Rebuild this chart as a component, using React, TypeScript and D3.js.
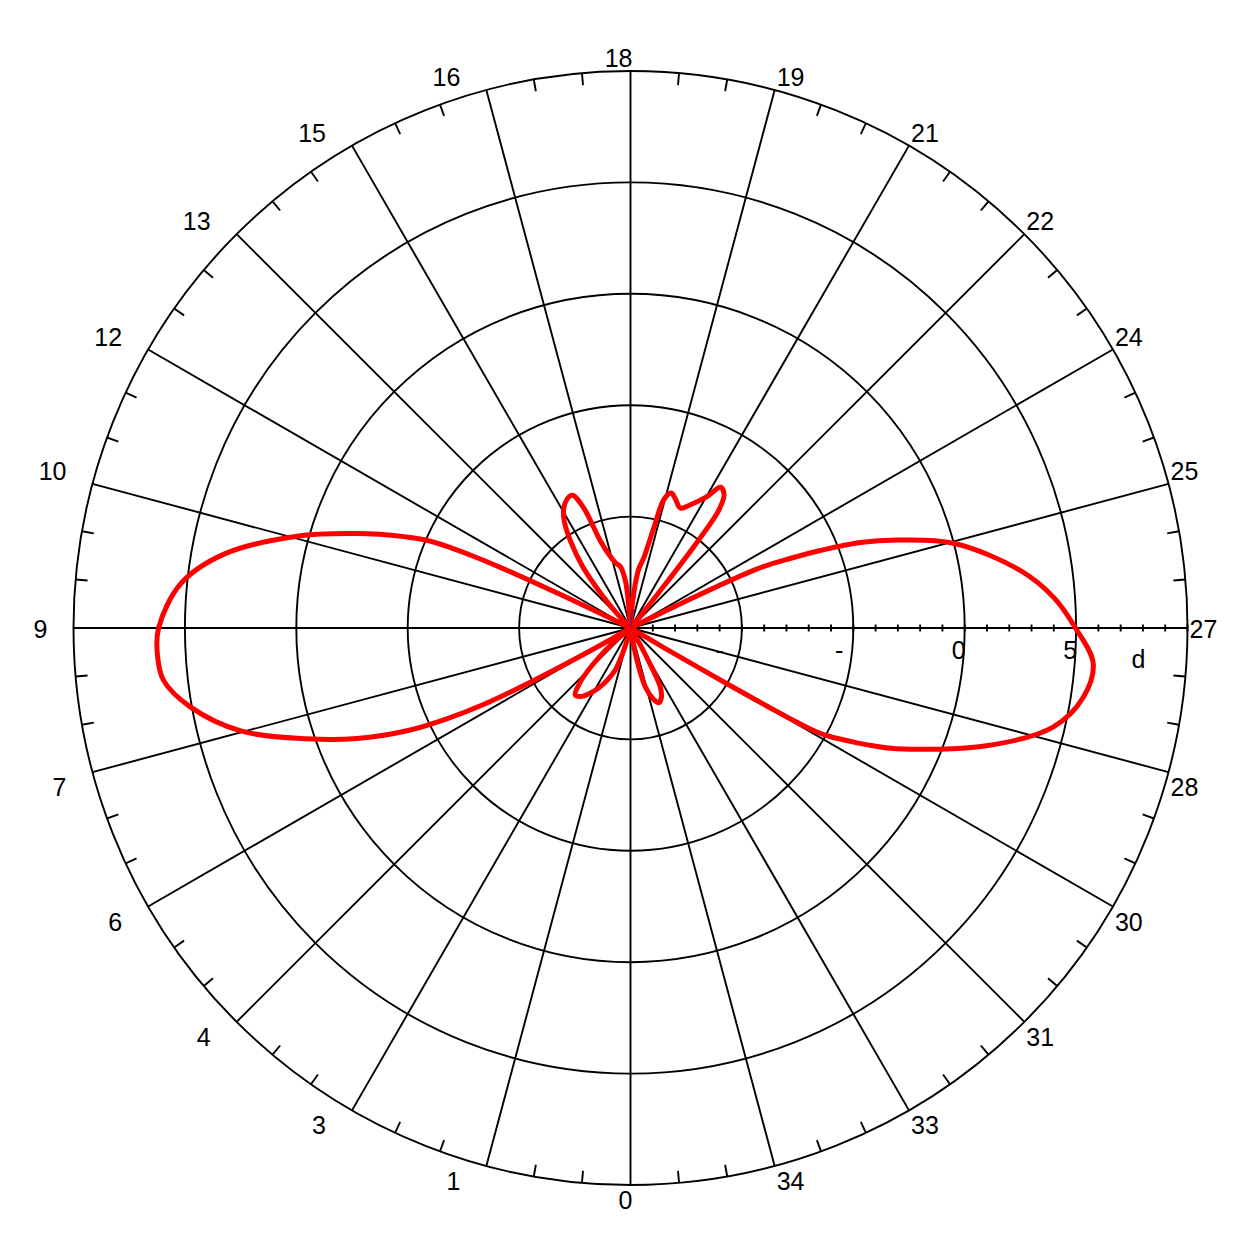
import React from "react";
import * as d3 from "d3";

// Pattern samples: angle (deg, 0 at bottom, clockwise) and gain (dB)
const angleDeg = [
  0, 12, 15, 17, 20, 24, 28, 32, 35.5, 39.5, 42.5, 45, 47.5, 50, 52,
  58, 60, 61.5, 62.5, 63.7, 65.3, 68, 71.1, 75.2, 79.8, 83.6, 86.9, 90, 95.6, 100.3, 105.6, 108.9, 110.5, 112, 113.2, 114, 114.6, 115, 115.5, 116, 117,
  135, 137, 139, 142.1, 145.3, 148.8, 152.8, 156.3, 158.7, 160.9, 164, 167, 170.8, 173.9, 175.5, 177, 180,
  183, 186, 188, 190.8, 193.1, 194.6, 196.8, 199, 202.6, 205.9, 210.2, 212.6, 215, 216.8, 217.8, 218.5, 219.5, 221,
  242, 244, 245, 246.5, 247.8, 249.6, 251.7, 255.3, 261.6, 266, 270, 274.4, 278.7, 283.2, 288.3, 294.4, 296, 297.4, 298.5, 299.2, 299.6, 300, 300.5, 301.5,
  328, 330, 331.5, 333.2, 336, 339.2, 342, 345.8, 348.1, 350, 352,
];
const gainDb = [
  -15, -15, -14.64, -13.88, -12.98, -12.44, -11.95, -11.54, -11.23, -11.1, -11.59, -12.31, -13.2, -14.46, -15,
  -15, -13.65, -10.06, -7.59, -5.8, -3.96, -1.76, 0.35, 3.09, 5.06, 6.09, 6.27, 6.18, 5.29, 3.54, 0.39, -1.89, -2.97, -4.05, -4.95, -6.02, -7.37, -8.72, -11.41, -14.1, -15,
  -15, -14.1, -13.11, -11.5, -10.29, -9.21, -8.63, -8.49, -9.21, -10.87, -11.63, -11.99, -12.22, -12.89, -14.1, -14.78, -15,
  -14.46, -13.11, -12.31, -11.77, -10.38, -9.03, -8.67, -8.85, -9.17, -8.85, -8.18, -7.5, -7.68, -8.36, -10.06, -12.31, -14.33, -15,
  -15, -12.76, -8.72, -7.15, -5.8, -4.0, -2.43, -0.01, 2.68, 4.08, 4.97, 5.83, 5.56, 4.48, 1.83, -1.89, -2.97, -4.0, -4.77, -5.48, -6.92, -9.61, -13.2, -15,
  -15, -14.1, -13.2, -12.04, -11.59, -11.41, -11.63, -12.26, -13.2, -14.33, -15,
];

// tiny second trace near the centre
const blueAngleDeg = [180, 186];
const blueGainDb = [-15, -14.15];

const radialDomain = [-15, 10];
const ringValues = [-10, -5, 0, 5, 10];
const radialTickValues = d3.range(-14, 11, 1);
const radialLabelValues = [-10, -5, 0, 5];
const radialLabelTexts = ["-", "-", "0", "5"];
const radialUnitText = "d";
const radialUnitValue = 7.8;

const spokeAngles = d3.range(0, 360, 15);
const spokeLabels = [
  "0", "1", "3", "4", "6", "7", "9", "10", "12", "13", "15", "16",
  "18", "19", "21", "22", "24", "25", "27", "28", "30", "31", "33", "34",
];
const minorTickAngles = d3.range(0, 360, 5).filter((a) => a % 15 !== 0);

export default function App() {
  const W = 1253;
  const H = 1253;
  const cx = 630.5;
  const cy = 628;
  const R = 557;
  const font = "'Liberation Sans', Arial, Helvetica, sans-serif";
  const fs = 25;

  const r = d3.scaleLinear().domain(radialDomain).range([0, R]).clamp(true);
  const rad = (deg: number) => (deg * Math.PI) / 180;
  const pt = (deg: number, rr: number): [number, number] => [
    cx - rr * Math.sin(rad(deg)),
    cy + rr * Math.cos(rad(deg)),
  ];

  const line = d3
    .lineRadial<number>()
    .angle((_, i) => rad(angleDeg[i] + 180))
    .radius((d) => r(d))
    .curve(d3.curveCatmullRomClosed.alpha(0.5));
  const pathD = line(gainDb) || "";

  const blueLine = d3
    .lineRadial<number>()
    .angle((_, i) => rad(blueAngleDeg[i] + 180))
    .radius((d) => r(d));
  const blueD = blueLine(blueGainDb) || "";

  const gridStroke = "#000";
  const gw = 1.9;

  return (
    <svg
      width={W}
      height={H}
      viewBox={`0 0 ${W} ${H}`}
      style={{ position: "absolute", left: 0, top: 0, background: "#fff" }}
    >
      <rect x={0} y={0} width={W} height={H} fill="#fff" />
      {/* rings */}
      {ringValues.map((v) => (
        <circle key={v} cx={cx} cy={cy} r={r(v)} fill="none" stroke={gridStroke} strokeWidth={gw} />
      ))}
      {/* spokes */}
      {spokeAngles.map((a) => {
        const [x, y] = pt(a, R);
        return <line key={a} x1={cx} y1={cy} x2={x} y2={y} stroke={gridStroke} strokeWidth={gw} />;
      })}
      {/* minor ticks on outer circle */}
      {minorTickAngles.map((a) => {
        const [x1, y1] = pt(a, R);
        const [x2, y2] = pt(a, R - 12);
        return <line key={a} x1={x1} y1={y1} x2={x2} y2={y2} stroke={gridStroke} strokeWidth={gw} />;
      })}
      {/* radial axis ticks */}
      {radialTickValues.map((v) => (
        <line
          key={v}
          x1={cx + r(v)}
          x2={cx + r(v)}
          y1={cy - 3.5}
          y2={cy + 3.5}
          stroke={gridStroke}
          strokeWidth={gw}
        />
      ))}
      {/* radial labels */}
      {radialLabelValues.map((v, i) => {
        const t = radialLabelTexts[i];
        const base = cx + r(v);
        const x = t === "-" ? base - (i === 0 ? 18 : 10) : base + 1;
        return (
          <text key={v} x={x} y={cy + 31} fontFamily={font} fontSize={fs} textAnchor="end" fill="#000">
            {t}
          </text>
        );
      })}
      <text
        x={cx + r(radialUnitValue)}
        y={cy + 40}
        fontFamily={font}
        fontSize={fs}
        textAnchor="middle"
        fill="#000"
      >
        {radialUnitText}
      </text>
      {/* angle labels */}
      {spokeAngles.map((a, i) => {
        const [x, y] = pt(a, R);
        let anchor: "start" | "end" = "start";
        let tx = x + 2;
        if (a === 0 || a === 180) {
          anchor = "end";
          tx = x + 2;
        } else if (a < 180) {
          anchor = "end";
          tx = x - 26;
        }
        let ty: number;
        if (a === 90 || a === 270) ty = y + 10;
        else if (a > 90 && a < 270) ty = y - 4;
        else ty = y + 24;
        return (
          <text key={a} x={tx} y={ty} fontFamily={font} fontSize={fs} textAnchor={anchor} fill="#000">
            {spokeLabels[i]}
          </text>
        );
      })}
      {/* pattern */}
      <g transform={`translate(${cx},${cy})`}>
        <path d={pathD} fill="none" stroke="#ff0000" strokeWidth={5} strokeLinejoin="round" />
        <path d={blueD} fill="none" stroke="#2a2aa8" strokeWidth={1} />
      </g>
    </svg>
  );
}
